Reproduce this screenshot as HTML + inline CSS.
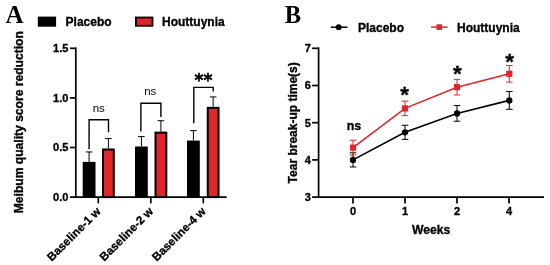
<!DOCTYPE html><html><head><meta charset="utf-8"><title>Figure</title>
<style>html,body{margin:0;padding:0;background:#fff}svg{display:block}text{font-family:"Liberation Sans",sans-serif;fill:#000}.b{font-weight:bold;stroke:#000;stroke-width:0.32px}.s{font-family:"Liberation Serif",serif;font-weight:bold}</style></head><body>
<svg width="550" height="265" viewBox="0 0 550 265">
<rect width="550" height="265" fill="#fff"/>
<text class="s" x="5.6" y="23.3" font-size="25">A</text>
<rect x="37.8" y="16.6" width="18.3" height="10.1" fill="#000"/>
<text class="b" x="65.6" y="25.8" font-size="12">Placebo</text>
<rect x="135.9" y="17.5" width="16.6" height="8.3" fill="#e0262b" stroke="#000" stroke-width="1.8"/>
<text class="b" x="162" y="25.8" font-size="12">Houttuynia</text>
<text class="b" font-size="12.1" text-anchor="middle" transform="translate(22.6,122.2) rotate(-90)">Meibum quality score reduction</text>
<g stroke="#000" stroke-width="1.7" fill="none">
<path d="M75.80 47.45V197.95"/>
<path d="M75.80 197.10H226.6"/>
<path d="M69.9 197.10H75.80"/>
<path d="M69.9 147.50H75.80"/>
<path d="M69.9 97.90H75.80"/>
<path d="M69.9 48.30H75.80"/>
<path d="M98.30 197.10V203.4"/>
<path d="M150.80 197.10V203.4"/>
<path d="M203.30 197.10V203.4"/>
</g>
<text class="b" font-size="11" text-anchor="end" x="68.4" y="201.00">0.0</text>
<text class="b" font-size="11" text-anchor="end" x="68.4" y="151.40">0.5</text>
<text class="b" font-size="11" text-anchor="end" x="68.4" y="101.80">1.0</text>
<text class="b" font-size="11" text-anchor="end" x="68.4" y="52.20">1.5</text>
<path d="M89.10 161.88V151.96M85.80 151.96H92.40" stroke="#000" stroke-width="1" fill="none"/>
<rect x="82.70" y="161.88" width="12.80" height="35.22" fill="#000"/>
<path d="M108.40 148.49V138.57M105.10 138.57H111.70" stroke="#000" stroke-width="1" fill="none"/>
<rect x="103.00" y="149.49" width="10.80" height="47.61" fill="#e0262b" stroke="#000" stroke-width="2"/>
<path d="M141.40 146.51V136.59M138.10 136.59H144.70" stroke="#000" stroke-width="1" fill="none"/>
<rect x="135.00" y="146.51" width="12.80" height="50.59" fill="#000"/>
<path d="M160.90 131.63V120.72M157.60 120.72H164.20" stroke="#000" stroke-width="1" fill="none"/>
<rect x="155.50" y="132.63" width="10.80" height="64.47" fill="#e0262b" stroke="#000" stroke-width="2"/>
<path d="M193.40 140.56V130.64M190.10 130.64H196.70" stroke="#000" stroke-width="1" fill="none"/>
<rect x="187.00" y="140.56" width="12.80" height="56.54" fill="#000"/>
<path d="M213.15 106.83V96.91M209.85 96.91H216.45" stroke="#000" stroke-width="1" fill="none"/>
<rect x="207.75" y="107.83" width="10.80" height="89.27" fill="#e0262b" stroke="#000" stroke-width="2"/>
<g stroke="#000" stroke-width="1.4" fill="none">
<path d="M89.1 149.3V119.7H108.5V132.3"/>
<path d="M140.9 131.4V103.2H160.9V117"/>
<path d="M193.8 123.2V87.4H213.2V91.5"/>
</g>
<text font-size="11.5" text-anchor="middle" x="98.8" y="111.5">ns</text>
<text font-size="11.5" text-anchor="middle" x="150.3" y="94.5">ns</text>
<text font-size="17" text-anchor="middle" x="203.4" y="85.6" style="font-family:'DejaVu Sans',sans-serif;font-weight:bold;stroke:#000;stroke-width:0.55px;stroke-linejoin:round">**</text>
<text class="b" font-size="11.6" text-anchor="end" transform="translate(101.50,212.00) rotate(-45)">Baseline-1 w</text>
<text class="b" font-size="11.6" text-anchor="end" transform="translate(154.00,212.00) rotate(-45)">Baseline-2 w</text>
<text class="b" font-size="11.6" text-anchor="end" transform="translate(206.50,212.00) rotate(-45)">Baseline-4 w</text>
<text class="s" x="284.8" y="23.3" font-size="24.5">B</text>
<path d="M330.8 27.2H347.5" stroke="#000" stroke-width="1.5"/><circle cx="338.7" cy="27.2" r="2.9" fill="#000"/>
<text class="b" x="358" y="31.5" font-size="12">Placebo</text>
<path d="M431 27.1H447.6" stroke="#e0262b" stroke-width="1.5"/><rect x="436.5" y="24.3" width="5.6" height="5.6" fill="#e0262b"/>
<text class="b" x="457" y="31.5" font-size="12">Houttuynia</text>
<text class="b" font-size="12" text-anchor="middle" transform="translate(296.8,122.8) rotate(-90)">Tear break-up time(s)</text>
<g stroke="#000" stroke-width="1.7" fill="none">
<path d="M318.60 47.45V197.95"/>
<path d="M318.60 197.10H544"/>
<path d="M312.1 197.10H318.60"/>
<path d="M312.1 159.90H318.60"/>
<path d="M312.1 122.70H318.60"/>
<path d="M312.1 85.50H318.60"/>
<path d="M312.1 48.30H318.60"/>
<path d="M353.00 197.10V203.4"/>
<path d="M405.00 197.10V203.4"/>
<path d="M457.00 197.10V203.4"/>
<path d="M509.00 197.10V203.4"/>
</g>
<text class="b" font-size="11" text-anchor="end" x="310.8" y="201.00">3</text>
<text class="b" font-size="11" text-anchor="end" x="310.8" y="163.80">4</text>
<text class="b" font-size="11" text-anchor="end" x="310.8" y="126.60">5</text>
<text class="b" font-size="11" text-anchor="end" x="310.8" y="89.40">6</text>
<text class="b" font-size="11" text-anchor="end" x="310.8" y="52.20">7</text>
<text class="b" font-size="11" text-anchor="middle" x="353.00" y="214.9">0</text>
<text class="b" font-size="11" text-anchor="middle" x="405.00" y="214.9">1</text>
<text class="b" font-size="11" text-anchor="middle" x="457.00" y="214.9">2</text>
<text class="b" font-size="11" text-anchor="middle" x="509.00" y="214.9">4</text>
<text class="b" font-size="12.2" text-anchor="middle" x="431.1" y="233.8">Weeks</text>
<polyline points="353.00,159.90 405.00,132.30 457.00,113.40 509.30,100.38" fill="none" stroke="#000" stroke-width="1.6"/>
<path d="M353.00 166.97V152.83M349.70 152.83H356.30M349.70 166.97H356.30" stroke="#000" stroke-width="1" fill="none"/>
<circle cx="353.00" cy="159.90" r="3.15" fill="#000"/>
<path d="M405.00 139.37V125.23M401.70 125.23H408.30M401.70 139.37H408.30" stroke="#000" stroke-width="1" fill="none"/>
<circle cx="405.00" cy="132.30" r="3.15" fill="#000"/>
<path d="M457.00 121.21V105.59M453.70 105.59H460.30M453.70 121.21H460.30" stroke="#000" stroke-width="1" fill="none"/>
<circle cx="457.00" cy="113.40" r="3.15" fill="#000"/>
<path d="M509.30 109.31V91.45M506.00 91.45H512.60M506.00 109.31H512.60" stroke="#000" stroke-width="1" fill="none"/>
<circle cx="509.30" cy="100.38" r="3.15" fill="#000"/>
<polyline points="353.00,147.62 405.00,108.38 457.00,87.17 509.30,73.78" fill="none" stroke="#e0262b" stroke-width="1.6"/>
<path d="M353.00 155.06V140.18M349.70 140.18H356.30M349.70 155.06H356.30" stroke="#e0262b" stroke-width="1" fill="none"/>
<rect x="349.90" y="144.52" width="6.2" height="6.2" fill="#e0262b"/>
<path d="M405.00 115.63V101.12M401.70 101.12H408.30M401.70 115.63H408.30" stroke="#e0262b" stroke-width="1" fill="none"/>
<rect x="401.90" y="105.28" width="6.2" height="6.2" fill="#e0262b"/>
<path d="M457.00 94.99V79.36M453.70 79.36H460.30M453.70 94.99H460.30" stroke="#e0262b" stroke-width="1" fill="none"/>
<rect x="453.90" y="84.07" width="6.2" height="6.2" fill="#e0262b"/>
<path d="M509.30 82.08V65.49M506.00 65.49H512.60M506.00 82.08H512.60" stroke="#e0262b" stroke-width="1" fill="none"/>
<rect x="506.20" y="70.68" width="6.2" height="6.2" fill="#e0262b"/>
<text class="b" font-size="12.4" text-anchor="middle" x="353.9" y="129.9">ns</text>
<text class="b" font-size="22.5" text-anchor="middle" x="404.60" y="102.00">*</text>
<text class="b" font-size="22.5" text-anchor="middle" x="457.40" y="81.20">*</text>
<text class="b" font-size="22.5" text-anchor="middle" x="509.70" y="69.40">*</text>
</svg></body></html>
